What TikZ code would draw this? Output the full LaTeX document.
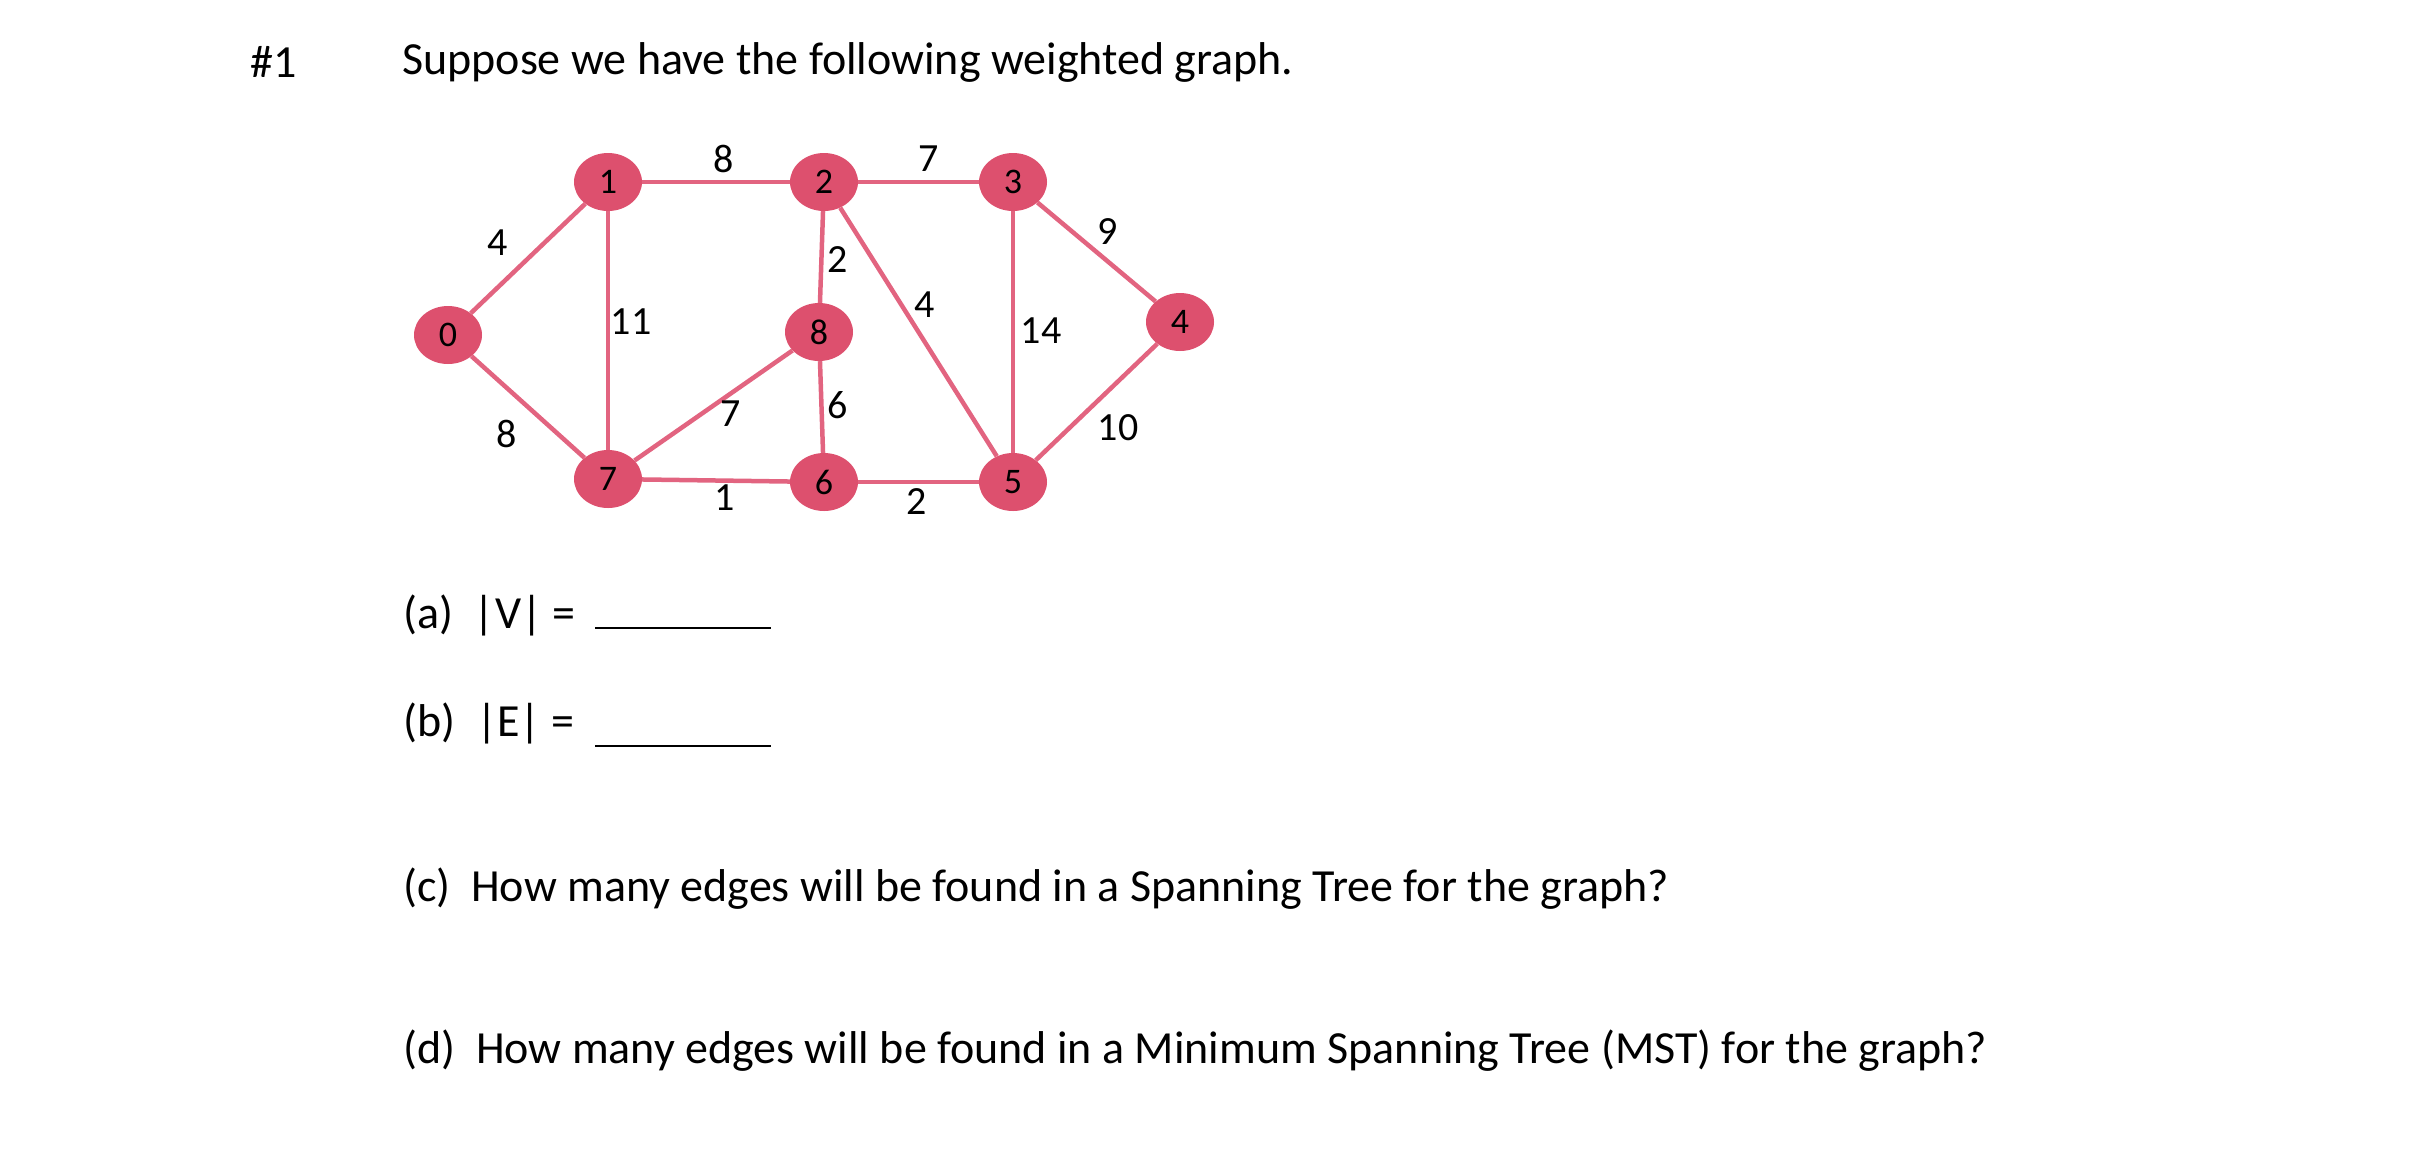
\documentclass[tikz,border=0pt]{standalone}
\usepackage{fontspec}
\setmainfont{Carlito}
\usetikzlibrary{shapes.geometric}
\definecolor{nodefill}{RGB}{221,80,110}
\definecolor{edgecol}{RGB}{226,100,128}
\begin{document}
\begin{tikzpicture}[x=1pt,y=-1pt,
  vtx/.style={ellipse,fill=nodefill,minimum width=68pt,minimum height=58pt,inner sep=0pt,font=\fontsize{36}{38}\selectfont},
  edge/.style={draw=edgecol,line width=4.5pt},
  wl/.style={font=\fontsize{40}{42}\selectfont,inner sep=0pt},
  txt/.style={font=\fontsize{46}{50}\selectfont,anchor=west,inner sep=0pt}]
\useasboundingbox (0,0) rectangle (2424,1149);
\node[vtx] (n0) at (448,335) {0};
\node[vtx] (n1) at (608,182) {1};
\node[vtx] (n2) at (824,182) {2};
\node[vtx] (n3) at (1013,182) {3};
\node[vtx] (n4) at (1180,322) {4};
\node[vtx] (n8) at (819,332) {8};
\node[vtx] (n7) at (608,479) {7};
\node[vtx] (n6) at (824,482) {6};
\node[vtx] (n5) at (1013,482) {5};
\path[edge] (n0) -- (n1);
\path[edge] (n0) -- (n7);
\path[edge] (n1) -- (n2);
\path[edge] (n1) -- (n7);
\path[edge] (n2) -- (n3);
\path[edge] (n2) -- (n8);
\path[edge] (n2) -- (n5);
\path[edge] (n3) -- (n5);
\path[edge] (n3) -- (n4);
\path[edge] (n4) -- (n5);
\path[edge] (n8) -- (n7);
\path[edge] (n8) -- (n6);
\path[edge] (n7) -- (n6);
\path[edge] (n6) -- (n5);
\node[wl] (w12) at (724,159) {8};
\node[wl] (w23) at (929,159) {7};
\node[wl] (w01) at (498,243) {4};
\node[wl] (w17) at (631,322) {11};
\node[wl] (w28) at (838,260) {2};
\node[wl] (w25) at (925,305) {4};
\node[wl] (w35) at (1041,331) {14};
\node[wl] (w34) at (1108,232) {9};
\node[wl] (w78) at (731,414) {7};
\node[wl] (w86) at (838,405) {6};
\node[wl] (w07) at (507,434) {8};
\node[wl] (w45) at (1118,428) {10};
\node[wl] (w76) at (725,498) {1};
\node[wl] (w65) at (917,502) {2};
\node[txt] (h1) at (250,62) {\#1};
\node[txt] (t0) at (402,62) {Suppose we have the following weighted graph.};
\node[txt] (ta) at (403,615) {(a)\ \ |V| =};
\node[txt] (tb) at (403,723) {(b)\ \ |E| =};
\coordinate (ua1) at (595,628); \coordinate (ua2) at (771,628);
\coordinate (ub1) at (595,746); \coordinate (ub2) at (771,746);
\draw[line width=1.8pt] (ua1) -- (ua2);
\draw[line width=1.8pt] (ub1) -- (ub2);
\node[txt] (tc) at (403,889) {(c)\ \ How many edges will be found in a Spanning Tree for the graph?};
\node[txt] (td) at (403,1051) {(d)\ \ How many edges will be found in a Minimum Spanning Tree (MST) for the graph?};
\end{tikzpicture}
\end{document}
